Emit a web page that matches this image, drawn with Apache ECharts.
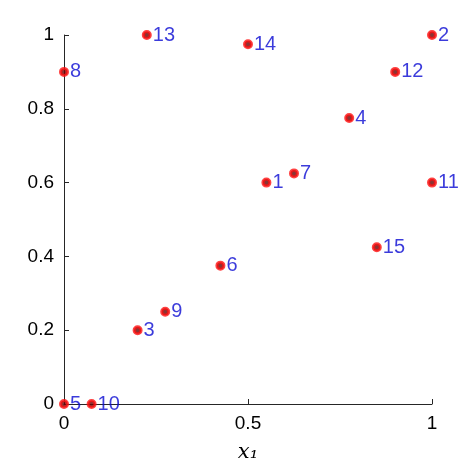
<!DOCTYPE html><html><head><meta charset="utf-8">
<script src="https://cdn.jsdelivr.net/npm/echarts@6/dist/echarts.min.js"></script>
<style>html,body{margin:0;background:#fff}#c{width:474px;height:474px}</style></head><body><div id="c"></div>
<script>
const labels=['1','2','3','4','5','6','7','8','9','10','11','12','13','14','15'];
const xVals=[0.55,1,0.2,0.775,0,0.425,0.625,0,0.275,0.075,1,0.9,0.225,0.5,0.85];
const yVals=[0.6,1,0.2,0.775,0,0.375,0.625,0.9,0.25,0,0.6,0.9,1,0.975,0.425];
const xTicks=[0,0.5,1];
const yTicks=[0,0.2,0.4,0.6,0.8,1];
const c=echarts.init(document.getElementById('c'));
const ax={min:0,max:1,splitLine:{show:false},axisLine:{lineStyle:{color:'#262626',width:1}},
 axisTick:{inside:true,length:5,lineStyle:{color:'#262626'}},
 axisLabel:{color:'#000',fontSize:19,fontFamily:'Liberation Sans'}};
c.setOption({animation:false,
grid:{left:64,right:42,top:35,bottom:70,containLabel:false,outerBoundsMode:'none'},
xAxis:Object.assign({},ax,{type:'value',interval:0.5,name:'x₁',nameLocation:'middle',nameGap:38,
 nameTextStyle:{fontSize:21,fontStyle:'italic',fontFamily:'DejaVu Serif',color:'#000'},
 axisLabel:Object.assign({},ax.axisLabel,{margin:10,formatter:v=>String(v)})}),
yAxis:Object.assign({},ax,{type:'value',interval:0.2,name:'x₂',nameLocation:'middle',nameGap:62,
 nameTextStyle:{fontSize:21,fontStyle:'italic',fontFamily:'DejaVu Serif',color:'#000'},
 axisLabel:Object.assign({},ax.axisLabel,{margin:10,formatter:v=>String(v)})}),
series:[{type:'scatter',clip:false,symbol:'circle',symbolSize:7,
 itemStyle:{color:'#700000',borderColor:'#ff1010',borderWidth:3},
 label:{show:true,position:'right',distance:1,color:'#0a0ad2',fontSize:20,fontFamily:'Liberation Sans',formatter:p=>p.data[2]},
 data:xVals.map((x,i)=>[x,yVals[i],labels[i]])}]});
</script></body></html>
